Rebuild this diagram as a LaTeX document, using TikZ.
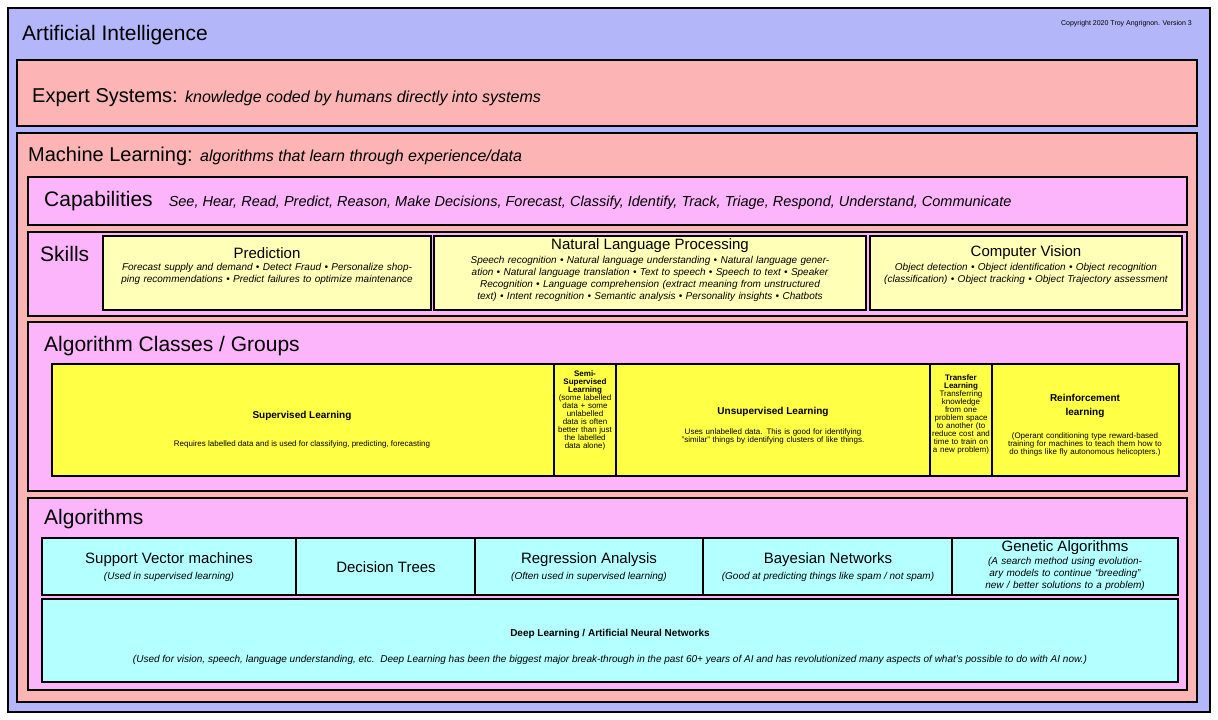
\documentclass[tikz,border=0pt]{standalone}
\usepackage{fontspec}
\setmainfont{Liberation Sans}
\begin{document}
\begin{tikzpicture}[x=1pt,y=-1pt,
  box/.style={draw=black,line width=1.4pt},
  fs/.style={font=\fontsize{#1}{#1}\selectfont},
  txt/.style={align=center,inner sep=0pt},
  hd/.style={anchor=west,inner sep=0pt}]
\useasboundingbox (0,0) rectangle (1218,720);
\definecolor{lav}{RGB}{180,182,250}
\definecolor{sal}{RGB}{252,180,180}
\definecolor{pnk}{RGB}{252,180,250}
\definecolor{pyel}{RGB}{255,255,184}
\definecolor{yel}{RGB}{255,255,70}
\definecolor{cyn}{RGB}{180,255,255}
\fill[white] (0,0) rectangle (1218,720);
\draw[box,fill=lav] (8,8) rectangle (1210,712);
\node[hd,fs=21] (ai) at (22,35) {Artificial Intelligence};
\node[anchor=east,inner sep=0pt,fs=7] (cp) at (1192,24) {Copyright 2020 Troy Angrignon. Version 3};
\draw[box,fill=sal] (17,60) rectangle (1197,126);
\node[hd] (es) at (32,98) {\fontsize{20}{20}\selectfont Expert Systems: \fontsize{16}{16}\selectfont\itshape knowledge coded by humans directly into systems};
\draw[box,fill=sal] (17,133) rectangle (1197,702);
\node[hd] (ml) at (28,156) {\fontsize{20}{20}\selectfont Machine Learning: \fontsize{16}{16}\selectfont\itshape algorithms that learn through experience/data};
\draw[box,fill=pnk] (28,177) rectangle (1187,225);
\node[hd] (cap) at (44,201) {\fontsize{21}{21}\selectfont Capabilities\hspace{16pt}\fontsize{14.5}{14.5}\selectfont\itshape See, Hear, Read, Predict, Reason, Make Decisions, Forecast, Classify, Identify, Track, Triage, Respond, Understand, Communicate};
\draw[box,fill=pnk] (28,232) rectangle (1187,316);
\node[hd,fs=21] (sk) at (40,254) {Skills};
\draw[box,fill=pyel] (103,236) rectangle (431,310);
\draw[box,fill=pyel] (434,236) rectangle (866,310);
\draw[box,fill=pyel] (870,236) rectangle (1182,310);
\node[txt,fs=15] (p1) at (267,253) {Prediction};
\node[txt,text width=310pt,fs=10.5,font=\itshape,anchor=north] (p2) at (267,263) {Forecast supply and demand • Detect Fraud • Personalize shopping recommendations • Predict failures to optimize maintenance};
\node[txt,fs=15] (n1) at (650,246) {Natural Language Processing};
\node[txt,text width=428pt,fs=10.5,font=\itshape,anchor=north] (n2) at (650,256) {Speech recognition • Natural language understanding • Natural language generation • Natural language translation • Text to speech • Speech to text • Speaker Recognition • Language comprehension (extract meaning from unstructured text) • Intent recognition • Semantic analysis • Personality insights • Chatbots};
\node[txt,fs=15] (c1) at (1026,253) {Computer Vision};
\node[txt,text width=306pt,fs=10.5,font=\itshape,anchor=north] (c2) at (1026,263) {Object detection • Object identification • Object recognition (classification) • Object tracking • Object Trajectory assessment};
\draw[box,fill=pnk] (28,322) rectangle (1187,491);
\node[hd,fs=21] (ac) at (44,346) {Algorithm Classes / Groups};
\draw[box,fill=yel] (52,364) rectangle (554,476);
\draw[box,fill=yel] (554,364) rectangle (616,476);
\draw[box,fill=yel] (616,364) rectangle (930,476);
\draw[box,fill=yel] (930,364) rectangle (992,476);
\draw[box,fill=yel] (992,364) rectangle (1179,476);
\node[txt,fs=36,font=\bfseries] (sl) at (302,416) {Supervised Learning};
\node[txt,fs=8] (sl2) at (302,444) {Requires labelled data and is used for classifying, predicting, forecasting};
\node[txt,text width=60pt,fs=8,anchor=north] (ss) at (585,370) {{\bfseries Semi-Supervised Learning}\\(some labelled data + some unlabelled data is often better than just the labelled data alone)};
\node[txt,fs=25,font=\bfseries] (ul) at (773,412) {Unsupervised Learning};
\node[txt,text width=310pt,fs=8,anchor=north] (ul2) at (773,428) {Uses unlabelled data. This is good for identifying "similar" things by identifying clusters of like things.};
\node[txt,text width=60pt,fs=8,anchor=north] (tl) at (961,374) {{\bfseries Transfer Learning}\\Transferring knowledge from one problem space to another (to reduce cost and time to train on a new problem)};
\node[txt,fs=18,font=\bfseries,text width=185pt] (rl) at (1085,406) {Reinforcement\\[2pt]learning};
\node[txt,text width=186pt,fs=8,anchor=north] (rl2) at (1085,432) {(Operant conditioning type reward-based training for machines to teach them how to do things like fly autonomous helicopters.)};
\draw[box,fill=pnk] (28,498) rectangle (1187,690);
\node[hd,fs=21] (al) at (44,519) {Algorithms};
\foreach \a/\b in {42/296,296/475,475/703,703/952,952/1178}
  \draw[box,fill=cyn] (\a,538) rectangle (\b,595);
\node[txt,fs=15] (s1) at (169,560) {Support Vector machines};
\node[txt,fs=11,font=\itshape] (s2) at (169,577) {(Used in supervised learning)};
\node[txt,fs=15] (dt) at (386,567) {Decision Trees};
\node[txt,fs=15] (r1) at (589,560) {Regression Analysis};
\node[txt,fs=11,font=\itshape] (r2) at (589,577) {(Often used in supervised learning)};
\node[txt,fs=15] (b1) at (828,560) {Bayesian Networks};
\node[txt,fs=10,font=\itshape] (b2) at (828,577) {(Good at predicting things like spam / not spam)};
\node[txt,fs=15] (g1) at (1065,548) {Genetic Algorithms};
\node[txt,text width=222pt,fs=10,font=\itshape,anchor=north] (g2) at (1065,557) {(A search method using evolutionary models to continue “breeding” new / better solutions to a problem)};
\draw[box,fill=cyn] (42,599) rectangle (1178,682);
\node[txt,fs=24,font=\bfseries] (dl) at (610,634) {Deep Learning / Artificial Neural Networks};
\node[txt,fs=10,font=\itshape] (dl2) at (610,660) {(Used for vision, speech, language understanding, etc.\ \ Deep Learning has been the biggest major break-through in the past 60+ years of AI and has revolutionized many aspects of what’s possible to do with AI now.)};
\end{tikzpicture}
\end{document}
